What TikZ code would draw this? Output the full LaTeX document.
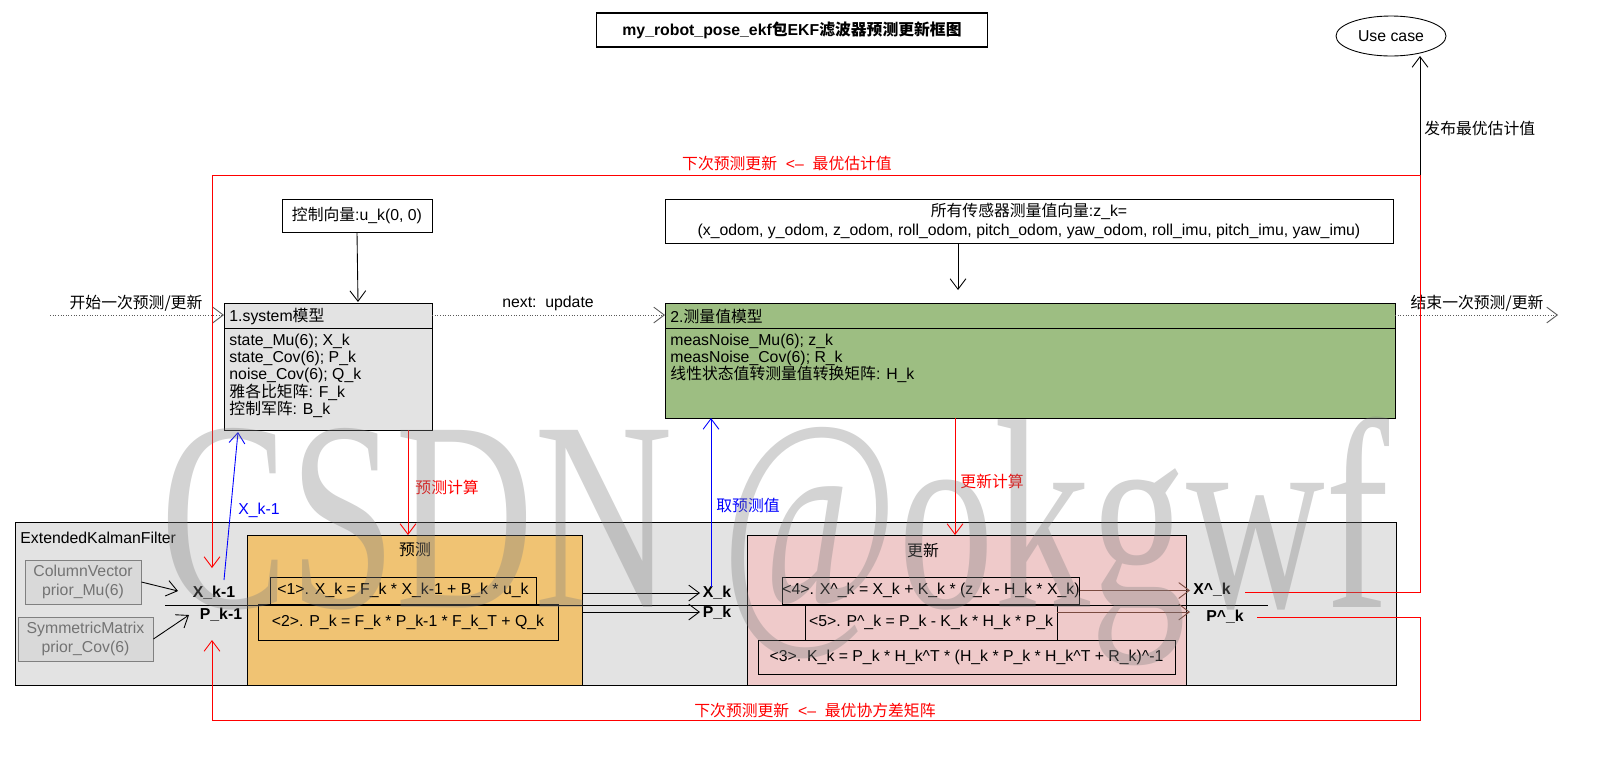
\documentclass[tikz,border=0pt]{standalone}
\usepackage{fontspec}
\setmainfont{Liberation Sans}
\newfontfamily\cjk{Noto Sans CJK SC}
\newfontfamily\wmfont{Liberation Serif}
\newcommand{\zh}[1]{{\cjk #1}}
\usetikzlibrary{arrows.meta,shapes.geometric}
\definecolor{bggray}{HTML}{E3E3E3}
\definecolor{pred}{HTML}{F0C373}
\definecolor{upd}{HTML}{EFCACA}
\definecolor{meas}{HTML}{9DBE82}
\definecolor{vbox}{HTML}{D9D9D9}
\definecolor{brn}{HTML}{7A4A40}
\tikzset{
  every node/.style={font=\fontsize{9}{10.5}\selectfont, inner sep=0pt},
  arr/.style={-{Straight Barb[length=6pt,width=9pt]}},
  boxx/.style={draw, line width=0.6pt},
}
\begin{document}
\begin{tikzpicture}[x=0.02cm,y=-0.02cm, line width=0.5pt]
\useasboundingbox (0,0) rectangle (1621,775);
% title
\node[boxx, minimum width=391*0.02cm, minimum height=34*0.02cm] (title) at (792,30) {\bfseries my\_robot\_pose\_ekf\zh{\bfseries 包}EKF\zh{\bfseries 滤波器预测更新框图}};
\node[draw, ellipse, minimum width=110*0.02cm, minimum height=40*0.02cm] (uc) at (1391,36) {Use case};
% outer filter box
\filldraw[fill=bggray, draw=black] (15,522) rectangle (1396,685);
\node[anchor=west] (ekf) at (20,538) {ExtendedKalmanFilter};
\filldraw[fill=pred, draw=black] (247,535) rectangle (582,685);
\node (predt) at (415,550) {\zh{预测}};
\filldraw[fill=upd, draw=black] (747,535) rectangle (1186,685);
\node (updt) at (923,550) {\zh{更新}};
\draw (165,605) -- (1268,605);
% equations
\node[draw, minimum width=266*0.02cm, minimum height=27*0.02cm] (e1) at (403,590.5) {<1>. X\_k = F\_k * X\_k-1 + B\_k * u\_k};
\node[draw, minimum width=300*0.02cm, minimum height=36*0.02cm] (e2) at (408,622) {<2>. P\_k = F\_k * P\_k-1 * F\_k\_T + Q\_k};
\node[draw, minimum width=252*0.02cm, minimum height=27*0.02cm] (e4) at (931,590.5) {<4>. X\textasciicircum\_k = X\_k + K\_k * (z\_k - H\_k * X\_k)};
\node[draw, minimum width=252*0.02cm, minimum height=36*0.02cm] (e5) at (931,622) {<5>. P\textasciicircum\_k = P\_k - K\_k * H\_k * P\_k};
\node[draw, minimum width=417*0.02cm, minimum height=34*0.02cm] (e3) at (966.5,657) {<3>. K\_k = P\_k * H\_k\textasciicircum T * (H\_k * P\_k * H\_k\textasciicircum T + R\_k)\textasciicircum-1};
% vectors
\node[draw=gray, fill=vbox, text=gray!90!black, align=center, minimum width=116*0.02cm, minimum height=44*0.02cm] (cv) at (83,582) {ColumnVector\\prior\_Mu(6)};
\node[draw=gray, fill=vbox, text=gray!90!black, align=center, minimum width=135*0.02cm, minimum height=44*0.02cm] (sm) at (85.5,639) {SymmetricMatrix\\prior\_Cov(6)};
\node (xk1) at (214,593) {\bfseries X\_k-1};
\node (pk1) at (221,615) {\bfseries P\_k-1};
\node (xk) at (717,593) {\bfseries X\_k};
\node (pk) at (717,613) {\bfseries P\_k};
\node (xh) at (1212,590) {\bfseries X\textasciicircum\_k};
\node (ph) at (1225,617) {\bfseries P\textasciicircum\_k};
\coordinate (cva) at (178,591);
\coordinate (sma) at (189,615);
\draw[arr] (cv.east) -- (cva);
\draw[arr] (sm.east) -- (sma);
\draw[arr] (582,593) -- (700,593);
\draw[arr] (582,612) -- (700,612);
\draw[arr, brn] (e4.east) -- (1190,590.5);
\draw[arr, brn] (1057,612) -- (1190,612);
% top boxes
\node[draw, minimum width=150*0.02cm, minimum height=33*0.02cm] (ctl) at (357,215.5) {\zh{控制向量}:u\_k(0, 0)};
\node[draw, align=center, minimum width=728*0.02cm, minimum height=44*0.02cm] (sens) at (1029,221) {\zh{所有传感器测量值向量}:z\_k=\\(x\_odom, y\_odom, z\_odom, roll\_odom, pitch\_odom, yaw\_odom, roll\_imu, pitch\_imu, yaw\_imu)};
\filldraw[fill=bggray, draw=black] (224,303) rectangle (432,430);
\draw (224,328) -- (432,328);
\node[anchor=west] (sys) at (229,316) {1.system\zh{模型}};
\node[anchor=north west, align=left, font=\fontsize{9}{9.7}\selectfont] (sysb) at (229,334) {state\_Mu(6); X\_k\\state\_Cov(6); P\_k\\noise\_Cov(6); Q\_k\\\zh{雅各比矩阵}: F\_k\\\zh{控制军阵}: B\_k};
\filldraw[fill=meas, draw=black] (665,303) rectangle (1395,418);
\draw (665,328) -- (1395,328);
\node[anchor=west] (mm) at (670,316) {2.\zh{测量值模型}};
\node[anchor=north west, align=left, font=\fontsize{9}{9.7}\selectfont] (mmb) at (670,334) {measNoise\_Mu(6); z\_k\\measNoise\_Cov(6); R\_k\\\zh{线性状态值转测量值转换矩阵}: H\_k};
\draw[arr] (ctl.south) -- (358,302);
\draw[arr] (958,243) -- (958,290);
% dotted flow
\coordinate (st) at (50,315);
\coordinate (en) at (1558,315);
\draw[arr, densely dotted, gray!70!black] (st) -- (224,315);
\draw[arr, densely dotted, gray!70!black] (432,315) -- (665,315);
\draw[arr, densely dotted, gray!70!black] (1395,315) -- (en);
\node (l1) at (136,303) {\zh{开始一次预测/更新}};
\node (l2) at (548,303) {next:\ \ update};
\node (l3) at (1477,303) {\zh{结束一次预测/更新}};
% red calculation arrows
\draw[arr, red] (408,430) -- (408,535);
\node[red, anchor=west] at (415,487) {\zh{预测计算}};
\draw[arr, red] (955,418) -- (955,535);
\node[red, anchor=west] at (960,481) {\zh{更新计算}};
% blue
\draw[arr, blue] (224,580) -- (238,432);
\node[blue] at (259,510) {X\_k-1};
\draw[arr, blue] (711,587) -- (711,418);
\node[blue] at (748,505) {\zh{取预测值}};
% feedback loops
\draw[arr, red] (1245,592) -- (1420,592) -- (1420,175) -- (212,175) -- (212,568);
\node[red] at (787,163) {\zh{下次预测更新}\ \ <--\ \ \zh{最优估计值}};
\draw[arr, red] (1257,617) -- (1420,617) -- (1420,720) -- (212,720) -- (212,640);
\node[red] at (815,710) {\zh{下次预测更新}\ \ <--\ \ \zh{最优协方差矩阵}};
\coordinate (pub) at (1420,175);
\draw[arr] (pub) -- (1420,56);
\node[anchor=west] at (1424,128) {\zh{发布最优估计值}};
% watermark
\node[anchor=base, text=gray, opacity=0.35, font=\wmfont\fontsize{154}{160}\selectfont, xscale=0.71, transform shape] at (775,607) {CSDN @okgwf};
\end{tikzpicture}
\end{document}
